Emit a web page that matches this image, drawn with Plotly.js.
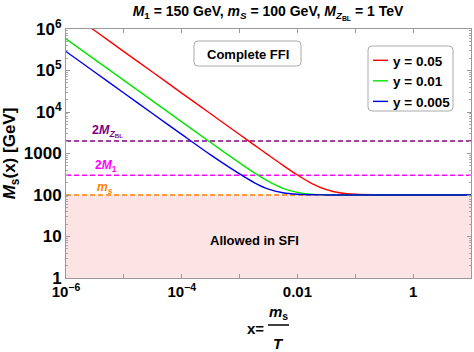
<!DOCTYPE html>
<html>
<head>
<meta charset="utf-8">
<script src="https://cdn.plot.ly/plotly-3.0.1.min.js"></script>
<style>html,body{margin:0;padding:0;background:#fff;}</style>
</head>
<body>
<div id="chart" style="width:474px;height:352px;"></div>
<script>
// x = m_s / T
const xVals = [1e-6, 3.16e-6, 1e-5, 3.16e-5, 1e-4, 3.16e-4, 1e-3, 1.78e-3, 3.16e-3, 5.62e-3, 0.01, 0.0178, 0.0316, 0.0562, 0.1, 0.316, 1, 3.16, 10];
// M_s(x) [GeV]
const mRed   = [2.86e6, 9.05e5, 2.86e5, 90500, 28600, 9050, 2862, 1610, 911, 519, 303, 189, 135, 112, 104, 100.4, 100, 100, 100];
const mGreen = [5.8e5, 1.835e5, 58000, 18350, 5800, 1838, 595, 345, 212, 145, 116, 105, 101.7, 100.5, 100.2, 100, 100, 100, 100];
const mBlue  = [2.87e5, 90800, 28700, 9080, 2880, 925, 322, 200, 138, 113, 104, 101.3, 100.4, 100.1, 100, 100, 100, 100, 100];
const seriesNames = ['y = 0.05', 'y = 0.01', 'y = 0.005'];

// reference levels
const refX = [1e-6, 10];
const level2MZBL = 2000;
const level2M1 = 300;
const levelMs = 100;

const xTickVals = [1e-6, 1e-5, 1e-4, 1e-3, 1e-2, 1e-1, 1];
const xTickText = ['10<sup>\u22126</sup>', '', '10<sup>\u22124</sup>', '', '0.01', '', '1'];
const yTickVals = [1, 10, 100, 1000, 1e4, 1e5, 1e6];
const yTickText = ['1', '10', '100', '1000', '10<sup>4</sup>', '10<sup>5</sup>', '10<sup>6</sup>'];

const yMinor = [];
for (let d = 0; d < 6; d++) for (let k = 2; k <= 9; k++) yMinor.push(k * Math.pow(10, d));

// plot-area geometry helpers (pixel -> paper)
const L = 66, R = 471, T = 29, B = 278;
const px = v => (v - L) / (R - L);
const py = v => (B - v) / (B - T);
function rrect(x0, y0, x1, y1, r) {
  const rx = r / (R - L), ry = r / (B - T);
  const a = px(x0), b = px(x1), top = py(y0), bot = py(y1);
  return `M${a + rx},${top} L${b - rx},${top} Q${b},${top} ${b},${top - ry} L${b},${bot + ry} Q${b},${bot} ${b - rx},${bot} L${a + rx},${bot} Q${a},${bot} ${a},${bot + ry} L${a},${top - ry} Q${a},${top} ${a + rx},${top} Z`;
}

const FONT = 'Liberation Sans, Arial, sans-serif';
const bold = (size, color) => ({family: FONT, size: size, color: color || '#000', weight: 'bold'});

const traces = [
  {x: refX, y: [level2MZBL, level2MZBL], mode: 'lines', line: {color: 'rgb(128,0,128)', width: 1.5, dash: '5px,3px'}, showlegend: false, hoverinfo: 'skip'},
  {x: refX, y: [level2M1, level2M1], mode: 'lines', line: {color: 'rgb(255,0,255)', width: 1.5, dash: '5px,3px'}, showlegend: false, hoverinfo: 'skip'},
  {x: refX, y: [levelMs, levelMs], mode: 'lines', line: {color: 'rgb(255,128,0)', width: 1.5, dash: '5px,3px'}, showlegend: false, hoverinfo: 'skip'},
  {x: xVals, y: mRed, mode: 'lines', name: seriesNames[0], line: {color: 'rgb(255,0,0)', width: 1.4, shape: 'spline', smoothing: 0.8}},
  {x: xVals, y: mGreen, mode: 'lines', name: seriesNames[1], line: {color: 'rgb(0,230,0)', width: 1.4, shape: 'spline', smoothing: 0.8}},
  {x: xVals, y: mBlue, mode: 'lines', name: seriesNames[2], line: {color: 'rgb(0,0,230)', width: 1.4, shape: 'spline', smoothing: 0.8}}
];

const axisCommon = {
  type: 'log', showgrid: false, zeroline: false, showline: true, linecolor: '#999', linewidth: 1,
  mirror: 'allticks', ticks: 'inside', ticklen: 4, tickcolor: '#999', tickwidth: 1
};

const layout = {
  width: 474, height: 352,
  margin: {l: L, r: 474 - R, t: T, b: 352 - B},
  paper_bgcolor: '#fff', plot_bgcolor: '#fff',
  title: {
    text: '<i>M</i><sub>1</sub> = 150 GeV, <i>m</i><sub><i>S</i></sub> = 100 GeV, <i>M</i><sub><i>Z</i><sub>BL</sub></sub> = 1 TeV',
    font: bold(14), x: 268 / 474, xanchor: 'center', xref: 'container', y: 1 - 11 / 352, yanchor: 'middle', yref: 'container'
  },
  xaxis: Object.assign({}, axisCommon, {
    range: [-6, 1], tickmode: 'array', tickvals: xTickVals, ticktext: xTickText, tickfont: bold(15)
  }),
  yaxis: Object.assign({}, axisCommon, {
    range: [0, 6], tickmode: 'array', tickvals: yTickVals, ticktext: yTickText, tickfont: bold(17),
    minor: {tickmode: 'array', tickvals: yMinor, ticks: 'inside', ticklen: 2, tickcolor: '#aaa'},
    title: {text: '<i>M</i><sub>s</sub>(x) [GeV]', font: bold(17), standoff: 4}
  }),
  showlegend: true,
  legend: {
    x: px(353), y: py(45), xanchor: 'left', yanchor: 'top',
    bgcolor: 'rgba(0,0,0,0)', borderwidth: 0, font: bold(13.5), itemwidth: 30, tracegroupgap: 0
  },
  shapes: [
    {type: 'rect', xref: 'paper', yref: 'paper', x0: 0, x1: 1, y0: 0, y1: 1 / 3, fillcolor: 'rgb(253,228,228)', line: {width: 0}, layer: 'below'},
    {type: 'path', xref: 'paper', yref: 'paper', path: rrect(194, 41, 301, 66, 4), line: {color: '#aaa', width: 1}, fillcolor: '#fff'},
    {type: 'path', xref: 'paper', yref: 'paper', path: rrect(368, 46, 453, 111, 4), line: {color: '#aaa', width: 1}, fillcolor: '#fff'},
    {type: 'line', xref: 'paper', yref: 'paper', x0: px(268), x1: px(289), y0: py(325), y1: py(325), line: {color: '#000', width: 1.5}}
  ],
  annotations: [
    {xref: 'paper', yref: 'paper', x: px(247.5), y: py(54), text: 'Complete FFI', showarrow: false, font: bold(13), xanchor: 'center', yanchor: 'middle'},
    {xref: 'paper', yref: 'paper', x: px(254), y: py(240), text: 'Allowed in SFI', showarrow: false, font: bold(13), xanchor: 'center', yanchor: 'middle'},
    {xref: 'paper', yref: 'paper', x: px(107), y: py(131), text: '2<i>M</i><sub><i>Z</i><sub>BL</sub></sub>', showarrow: false, font: bold(12.5, 'rgb(128,0,128)'), xanchor: 'center', yanchor: 'middle'},
    {xref: 'paper', yref: 'paper', x: px(106), y: py(166), text: '2<i>M</i><sub>1</sub>', showarrow: false, font: bold(12, 'rgb(255,0,255)'), xanchor: 'center', yanchor: 'middle'},
    {xref: 'paper', yref: 'paper', x: px(105), y: py(188), text: '<i>m</i><sub><i>s</i></sub>', showarrow: false, font: bold(12, 'rgb(255,128,0)'), xanchor: 'center', yanchor: 'middle'},
    {xref: 'paper', yref: 'paper', x: px(266), y: py(328), text: 'x=', showarrow: false, font: bold(15), xanchor: 'right', yanchor: 'middle'},
    {xref: 'paper', yref: 'paper', x: px(278.5), y: py(312), text: '<i>m</i><sub>s</sub>', showarrow: false, font: bold(15), xanchor: 'center', yanchor: 'middle'},
    {xref: 'paper', yref: 'paper', x: px(278.5), y: py(343), text: '<i>T</i>', showarrow: false, font: bold(15), xanchor: 'center', yanchor: 'middle'}
  ]
};

Plotly.newPlot('chart', traces, layout, {displayModeBar: false, staticPlot: true}).then(function () {
  document.querySelectorAll('.legend .legendlines path').forEach(function (p) {
    p.setAttribute('d', 'M20,0h15');
  });
});
</script>
</body>
</html>
